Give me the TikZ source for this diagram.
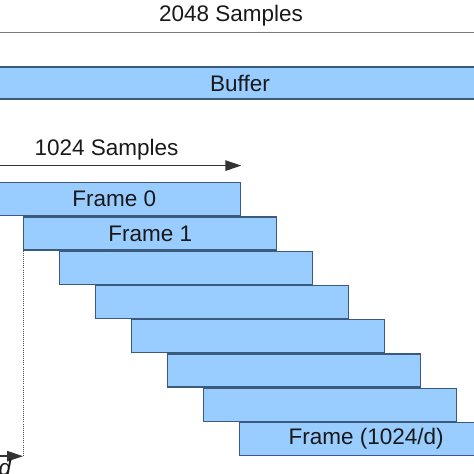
\documentclass[tikz,border=0pt]{standalone}
\usepackage{fontspec}
\setmainfont{Liberation Sans}
\usetikzlibrary{positioning,arrows.meta}
\definecolor{framefill}{HTML}{99CCFF}
\definecolor{frameline}{HTML}{3C5A7C}
\definecolor{ruleline}{HTML}{7A7A7A}

\begin{document}
\begin{tikzpicture}[
  x=0.025cm, y=-0.025cm,
  >={Triangle[length=0.4cm, width=0.26cm]},
  every node/.style={font=\fontsize{16}{19}\selectfont, inner sep=0pt, text=black!90},
  framebox/.style={draw=frameline, line width=0.9pt, fill=framefill, minimum width=6.325cm, minimum height=0.825cm, anchor=north west},
  bufbox/.style={draw=frameline, line width=0.9pt, fill=framefill, minimum width=12.65cm, minimum height=0.8cm},
  arr/.style={->, line width=1.1pt, black!80},
  rule/.style={line width=1.1pt, ruleline},
  dots/.style={dash pattern=on 0.6pt off 0.9pt, line width=0.6pt, black!70}
]
  \useasboundingbox (0,0) rectangle (474,474);
  \clip (0,0) rectangle (474,474);

  \node (total) at (231,16) {2048 Samples};
  \coordinate (rule-l) at (0,32.7);
  \coordinate (rule-r) at (474,32.7);
  \draw[rule] (rule-l) -- (rule-r);

  \node[bufbox] (buffer) at (240,83) {Buffer};

  \node[framebox] (f0) at (-13,182) {Frame 0};
  \node[framebox] (f1) at ([xshift=0.9cm]f0.south west) {Frame 1};
  \node[framebox] (f2) at ([xshift=0.9cm]f1.south west) {};
  \node[framebox] (f3) at ([xshift=0.9cm]f2.south west) {};
  \node[framebox] (f4) at ([xshift=0.9cm]f3.south west) {};
  \node[framebox] (f5) at ([xshift=0.9cm]f4.south west) {};
  \node[framebox] (f6) at ([xshift=0.9cm]f5.south west) {};
  \node[framebox] (f7) at ([xshift=0.9cm]f6.south west) {Frame (1024/d)};

  \draw[arr] ([yshift=0.41cm]f0.north west) -- node[pos=0.47, above=0.12cm] (len) {1024 Samples} ([yshift=0.41cm]f0.north east);

  \coordinate (dend) at (f1.south west |- f7.south);
  \draw[dots] (f1.south west) -- (dend);
  \draw[arr] ([xshift=-0.9cm]dend) -- node[below=0.05cm, font=\fontsize{16}{19}\selectfont\itshape] (hop) {d} (dend);
\end{tikzpicture}
\end{document}
